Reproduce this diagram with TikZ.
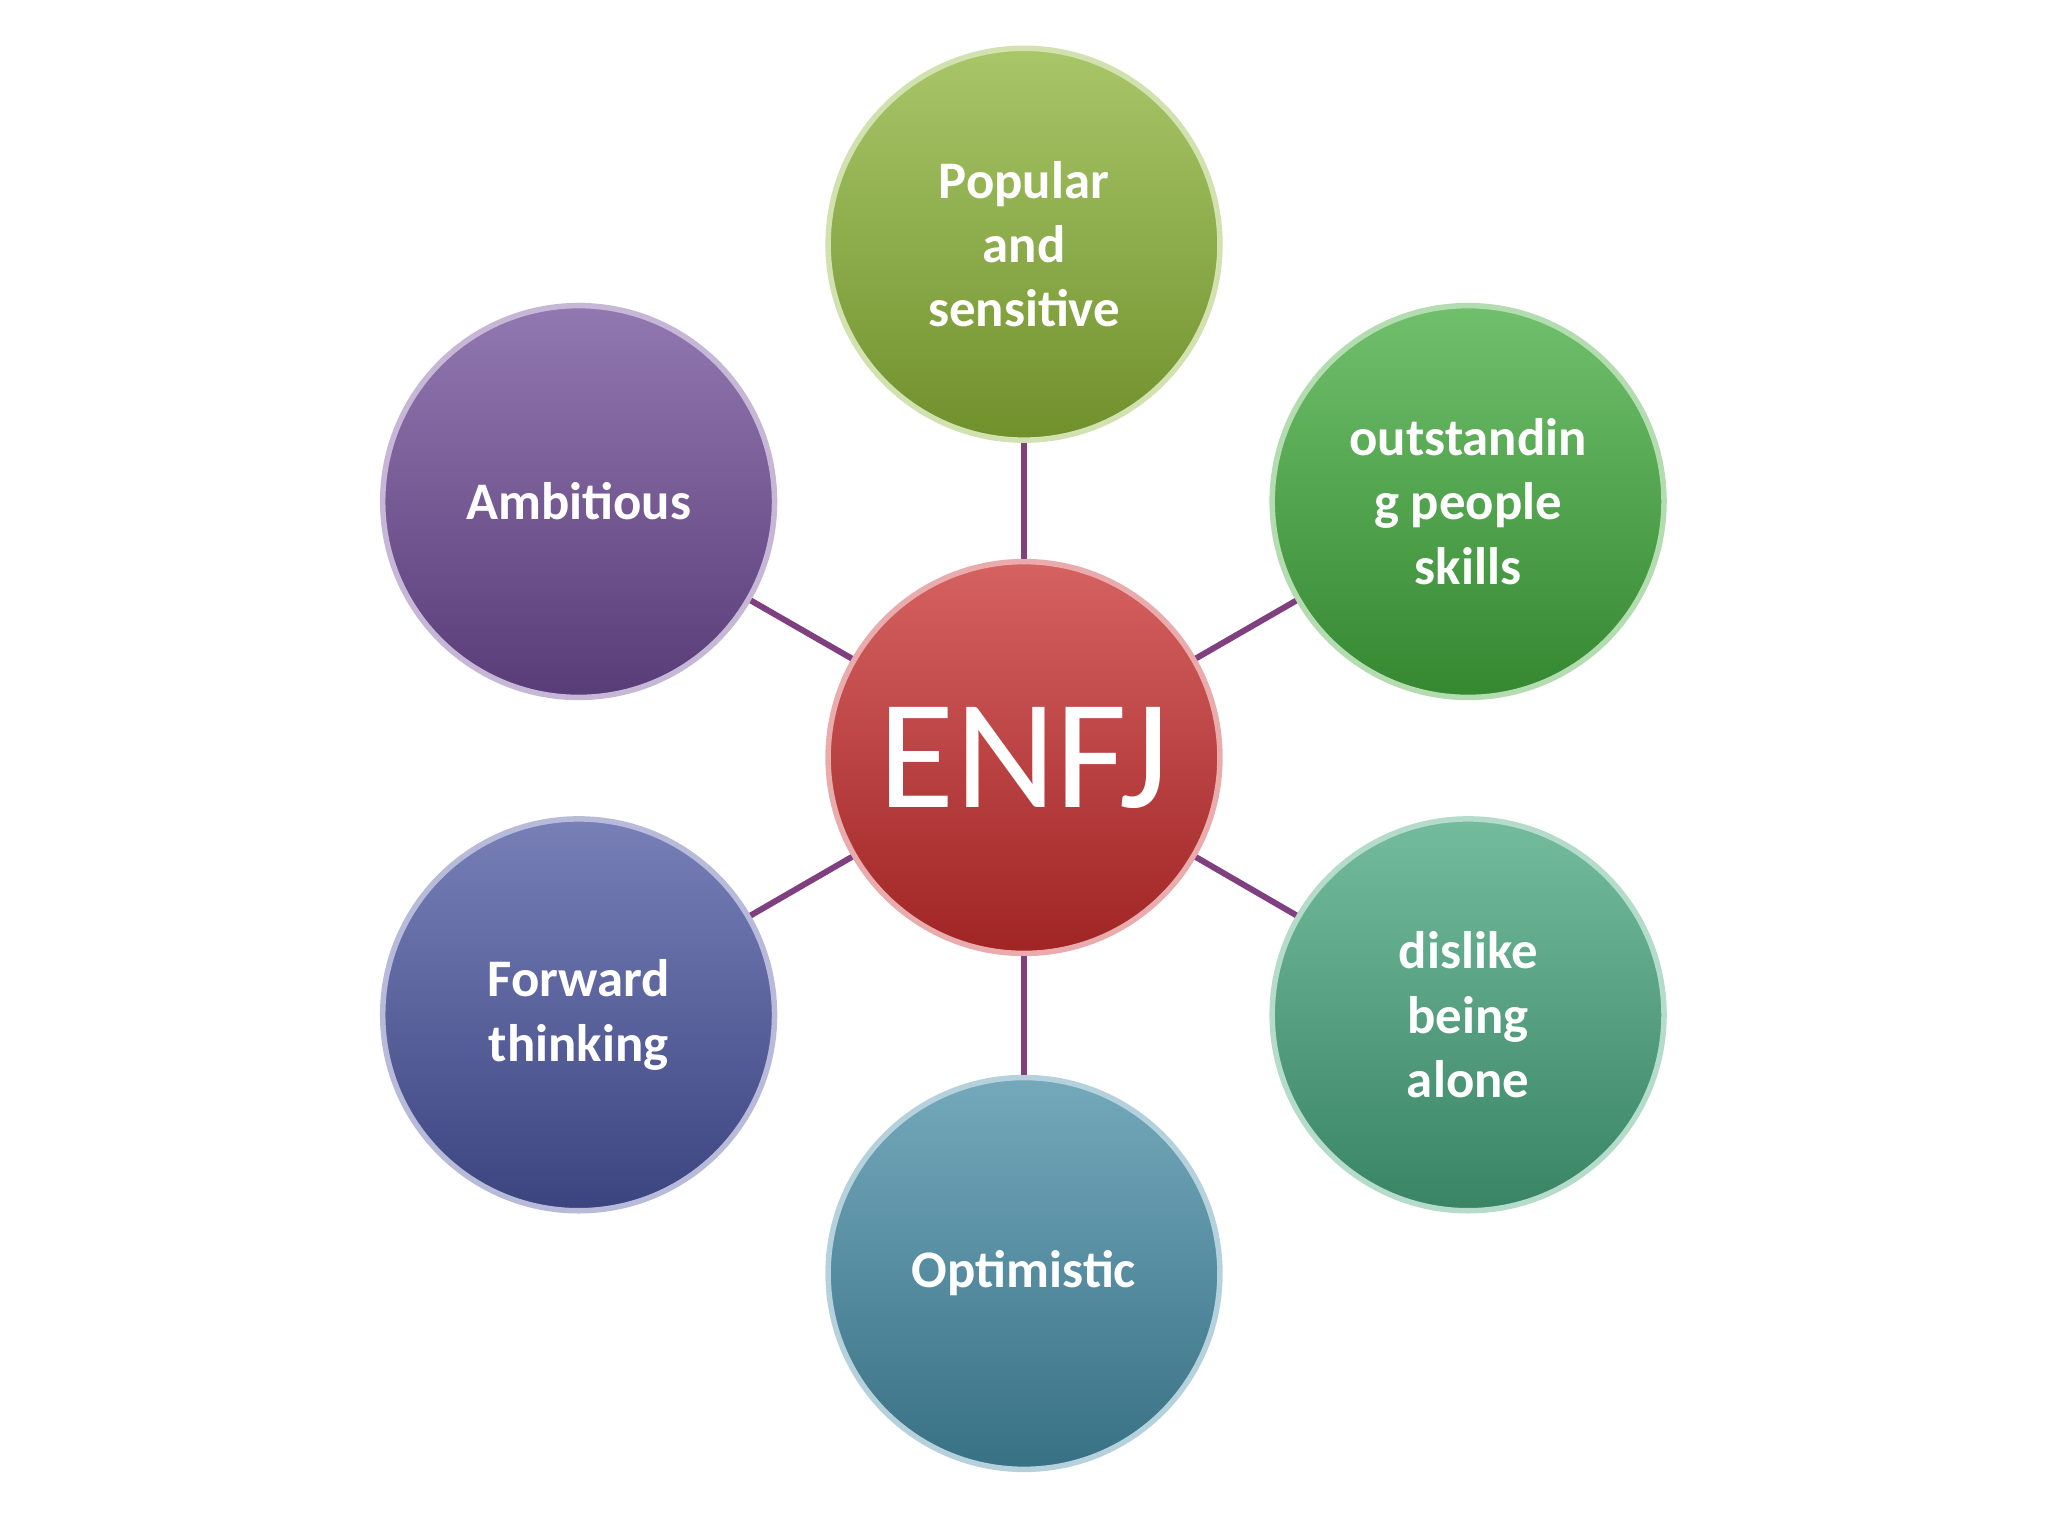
\documentclass[tikz,border=0pt]{standalone}
\usepackage{fontspec}
\setmainfont{Carlito}
\begin{document}
\begin{tikzpicture}[x=1cm,y=1cm,
  ball/.style={circle,minimum size=3cm,inner sep=0pt,align=center,text=white,
    font=\fontsize{11.5}{14}\selectfont\bfseries,draw=#1!40!white,line width=1.2pt,
    top color=#1!75!white,bottom color=#1!80!black},
  link/.style={draw=violet!50!gray,line width=1.3pt}]
\useasboundingbox (0,0) rectangle (15.68,11.76);
\definecolor{cred}{RGB}{200,45,45}
\definecolor{cgreenA}{RGB}{140,180,55}
\definecolor{cgreenB}{RGB}{65,170,60}
\definecolor{cteal}{RGB}{70,165,125}
\definecolor{cblue}{RGB}{70,140,165}
\definecolor{cnavy}{RGB}{75,85,160}
\definecolor{cpurple}{RGB}{110,75,150}
\node[ball=cred,font=\fontsize{34}{40}\selectfont] (c) at (7.84,5.96) {ENFJ};
\node[ball=cgreenA] (t) at (7.84,9.89) {Popular\\and\\sensitive};
\node[ball=cgreenB] (ur) at (11.24,7.92) {outstandin\\g people\\skills};
\node[ball=cteal] (lr) at (11.24,3.99) {dislike\\being\\alone};
\node[ball=cblue] (b) at (7.84,2.01) {Optimistic};
\node[ball=cnavy] (ll) at (4.43,3.99) {Forward\\thinking};
\node[ball=cpurple] (ul) at (4.43,7.92) {Ambitious};
\foreach \n in {t,ur,lr,b,ll,ul} \draw[link] (c) -- (\n);
\end{tikzpicture}
\end{document}
